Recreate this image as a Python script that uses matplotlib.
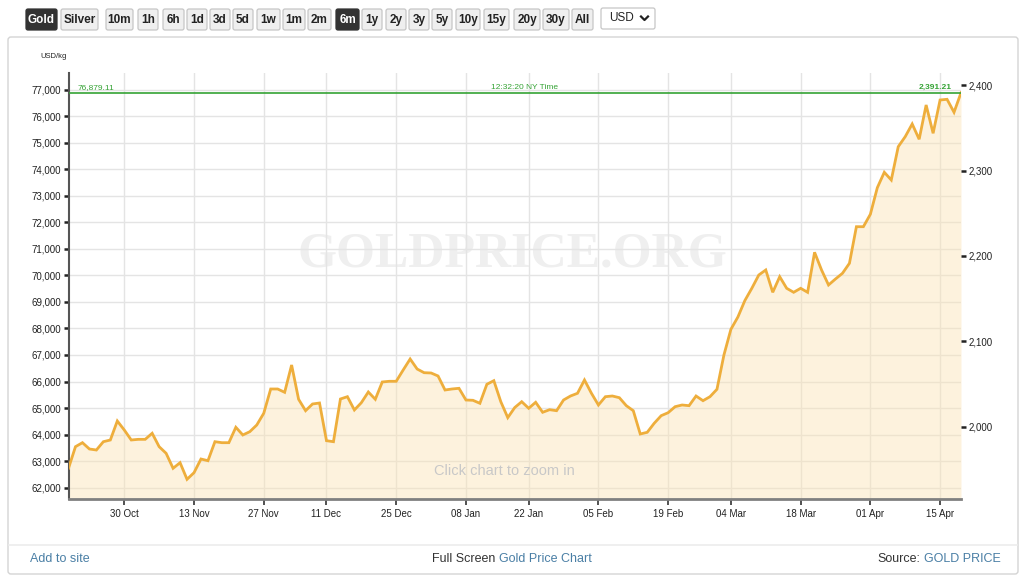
import numpy as np
import matplotlib
matplotlib.use('Agg')
import matplotlib.pyplot as plt
from matplotlib.patches import FancyBboxPatch, Rectangle
from matplotlib.lines import Line2D
from matplotlib.ticker import FuncFormatter
from matplotlib.transforms import Affine2D, blended_transform_factory

plt.rcParams['font.family'] = ['Liberation Sans', 'DejaVu Sans']

# gold price in USD/kg, one value per trading day (6 months)
price_kg = [62731, 63545, 63696, 63458, 63420, 63733, 63797, 64513, 64174, 63797,
            63822, 63822, 64050, 63545, 63296, 62731, 62942, 62316, 62565, 63081,
            63017, 63733, 63696, 63696, 64276, 63986, 64110, 64362, 64803, 65719,
            65719, 65594, 66623, 65331, 64901, 65154, 65191, 63771, 63733, 65342,
            65429, 64928, 65203, 65606, 65331, 65983, 66009, 66009, 66435, 66849,
            66472, 66333, 66322, 66209, 65681, 65719, 65745, 65304, 65293, 65180,
            65896, 66032, 65240, 64640, 65020, 65240, 64992, 65218, 64841, 64939,
            64901, 65304, 65455, 65557, 66058, 65557, 65116, 65429, 65455, 65391,
            65090, 64901, 64023, 64087, 64427, 64713, 64826, 65052, 65116, 65090,
            65455, 65278, 65429, 65708, 67000, 67968, 68430, 69050, 69513, 70014,
            70203, 69362, 69950, 69513, 69362, 69513, 69362, 70869, 70203, 69638,
            69864, 70078, 70455, 71834, 71834, 72301, 73304, 73884, 73594, 74849,
            75226, 75704, 75128, 76420, 75353, 76608, 76634, 76145, 76879.11]
last_price_kg = 76879.11
last_price_oz = 2391.21
last_time = '12:32:20 NY Time'

date_tick_idx = [8, 18, 28, 37, 47, 57, 66, 76, 86, 95, 105, 115, 125]
date_tick_labels = ['30 Oct', '13 Nov', '27 Nov', '11 Dec', '25 Dec', '08 Jan', '22 Jan',
                    '05 Feb', '19 Feb', '04 Mar', '18 Mar', '01 Apr', '15 Apr']
kg_ticks = list(range(62000, 78000, 1000))
oz_ticks = [2000, 2100, 2200, 2300, 2400]
OZ_PER_KG = 32.1507

buttons = ['Gold', 'Silver', '10m', '1h', '6h', '1d', '3d', '5d', '1w', '1m', '2m', '6m',
           '1y', '2y', '3y', '5y', '10y', '15y', '20y', '30y', 'All']
active = ['Gold', '6m']
button_x = [(26, 57), (61, 98), (106, 133), (138, 158), (163, 184), (187, 207), (210, 230),
            (233, 253), (257, 280), (283, 305), (308, 331), (336, 359), (362, 382), (386, 406),
            (409, 429), (432, 452), (456, 480), (484, 509), (514, 540), (543, 569), (572, 593)]

W, H = 1024, 576
fig = plt.figure(figsize=(W / 100, H / 100), dpi=100)
fig.patch.set_facecolor('white')
# pixel coordinates (origin top-left) -> figure
px = Affine2D().scale(1 / W, -1 / H).translate(0, 1) + fig.transFigure

# widget frame
fig.add_artist(FancyBboxPatch((8, 37), 1010, 537, boxstyle='round,pad=0,rounding_size=3',
                              transform=px, fc='none', ec='#d4d4d4', lw=1))
fig.add_artist(Line2D([9, 1017], [545, 545], transform=px, color='#ececec', lw=1.2))

# button bar
narrow = ['Liberation Sans Narrow', 'Liberation Sans']
for lab, (x0, x1) in zip(buttons, button_x):
    on = lab in active
    fig.add_artist(FancyBboxPatch((x0, 9), x1 - x0, 21, boxstyle='round,pad=0,rounding_size=2',
                                  transform=px, fc='#333333' if on else '#efefef',
                                  ec='#333333' if on else '#c6c6c6', lw=0.9))
    fig.text((x0 + x1) / 2, 20, lab, transform=px, ha='center', va='center',
             fontsize=8.5, weight='bold', family=narrow, color='white' if on else '#222222')
fig.add_artist(FancyBboxPatch((601, 8), 54, 21, boxstyle='round,pad=0,rounding_size=2',
                              transform=px, fc='white', ec='#c6c6c6', lw=0.9))
fig.text(609, 18, 'USD', transform=px, ha='left', va='center', fontsize=8.5, color='#222222')
fig.add_artist(Line2D([641, 644.5, 648], [16.5, 20, 16.5], transform=px, color='#222222', lw=1.6))

# chart
ax = fig.add_axes([68.5 / W, 77 / H, (961 - 68.5) / W, (499 - 73) / H])
ymin, ymax = 61574, 77625
x = np.arange(len(price_kg))
ax.set_xlim(0, len(price_kg) - 1)
ax.set_ylim(ymin, ymax)
ax.set_axisbelow(True)
ax.grid(color='#e4e4e4', lw=1)
ax.fill_between(x, price_kg, ymin, color='#fbe3b5', alpha=0.45, lw=0, zorder=1)
ax.plot(x, price_kg, color='#eeae3c', lw=2, zorder=3, solid_joinstyle='miter')
ax.axhline(last_price_kg, color='#35a335', lw=1.2, zorder=4)

bt = blended_transform_factory(ax.transAxes, ax.transData)
ax.text(0.0106, last_price_kg + 60, f'{last_price_kg:,.2f}', transform=bt, ha='left',
        va='bottom', fontsize=6, color='#35a335')
ax.text(0.511, last_price_kg + 60, last_time, transform=bt, ha='center',
        va='bottom', fontsize=6, color='#35a335')
ax.text(0.9899, last_price_kg + 60, f'{last_price_oz:,.2f}', transform=bt, ha='right',
        va='bottom', fontsize=6, color='#35a335', weight='bold')

ax.text(0.4969, 0.5728, 'GOLDPRICE.ORG', transform=ax.transAxes, ha='center', va='center',
        fontsize=36, family='Liberation Serif', weight='bold', color='#efefef', zorder=0.5)
ax.text(0.488, 0.0657, 'Click chart to zoom in', transform=ax.transAxes, ha='center',
        va='center', fontsize=10.5, color='#c8c8c8', zorder=5)

ax.set_xticks(date_tick_idx)
ax.set_xticklabels(date_tick_labels)
ax.set_yticks(kg_ticks)
ax.yaxis.set_major_formatter(FuncFormatter(lambda v, p: f'{v:,.0f}'))
for s in ['top', 'right']:
    ax.spines[s].set_visible(False)
ax.spines['left'].set_color('#555555')
ax.spines['left'].set_linewidth(1.5)
ax.spines['bottom'].set_color('#808080')
ax.spines['bottom'].set_linewidth(2)
ax.tick_params(axis='y', length=3.5, width=1.8, color='#222222', pad=2, labelsize=7,
               labelcolor='#222222')
ax.tick_params(axis='x', length=4.5, width=1.2, color='#333333', pad=3, labelsize=7,
               labelcolor='#222222')

ax2 = ax.twinx()
ax2.set_ylim(ymin / OZ_PER_KG, ymax / OZ_PER_KG)
ax2.set_yticks(oz_ticks)
ax2.yaxis.set_major_formatter(FuncFormatter(lambda v, p: f'{v:,.0f}'))
for s in ax2.spines.values():
    s.set_visible(False)
ax2.tick_params(axis='y', length=3.5, width=1.8, color='#222222', pad=2, labelsize=7,
                labelcolor='#222222')

fig.text(40, 56, 'USD/kg', transform=px, ha='left', va='center', fontsize=5.5, color='#222222')

# footer
link = '#4a7fa5'
fig.text(30, 559, 'Add to site', transform=px, ha='left', va='center', fontsize=9, color=link)
fig.text(495, 559, 'Full Screen', transform=px, ha='right', va='center', fontsize=9,
         color='#333333')
fig.text(499, 559, 'Gold Price Chart', transform=px, ha='left', va='center', fontsize=9,
         color=link)
fig.text(920, 559, 'Source:', transform=px, ha='right', va='center', fontsize=9,
         color='#333333')
fig.text(924, 559, 'GOLD PRICE', transform=px, ha='left', va='center', fontsize=9, color=link)

fig.savefig('out.png', dpi=100)
